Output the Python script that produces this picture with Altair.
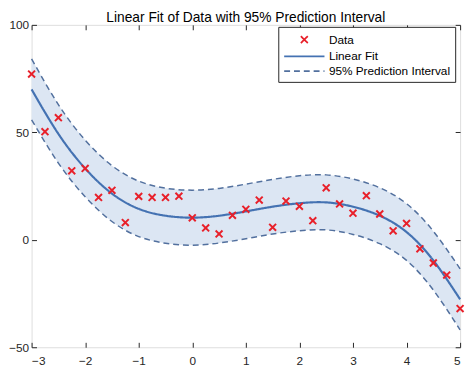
import altair as alt
import pandas as pd

# ---- data ----
x_data = [-3, -2.75, -2.5, -2.25, -2, -1.75, -1.5, -1.25, -1, -0.75, -0.5, -0.25,
          0, 0.25, 0.5, 0.75, 1, 1.25, 1.5, 1.75, 2, 2.25, 2.5, 2.75, 3, 3.25,
          3.5, 3.75, 4, 4.25, 4.5, 4.75, 5]
y_data = [77.1, 50.3, 56.8, 32.1, 33.2, 19.7, 23.0, 8.0, 20.2, 19.7, 19.7, 20.3,
          10.2, 5.5, 2.7, 11.4, 14.2, 18.5, 5.8, 18.0, 15.6, 8.9, 24.2, 16.7, 12.4, 20.5,
          12.0, 4.2, 7.6, -4.2, -10.8, -16.4, -32.0]

x_curve = [-3, -2.5, -2, -1.5, -1, -0.5, 0, 0.5, 1, 1.5, 2, 2.5, 3, 3.5, 4, 4.5, 5]
fit_y = [70.0, 49.3, 33.2, 21.5, 14.4, 11.2, 10.3, 11.2, 13.2, 15.4, 17.0, 17.4,
         15.4, 11.2, 3.6, -9.6, -27.7]
upper_y = [84.2, 62.9, 46.4, 34.5, 27.3, 24.0, 23.1, 23.9, 25.9, 28.1, 29.8, 30.2,
           28.3, 24.2, 16.8, 4.0, -13.5]
lower_y = [55.8, 35.7, 20.0, 8.5, 1.5, -1.6, -2.5, -1.5, 0.5, 2.7, 4.2, 4.6,
           2.5, -1.8, -9.6, -23.4, -41.9]

x_ticks = [-3, -2, -1, 0, 1, 2, 3, 4, 5]
y_ticks = [-50, 0, 50, 100]
series = ["Data", "Linear Fit", "95% Prediction Interval"]
title_text = "Linear Fit of Data with 95% Prediction Interval"

pts = pd.DataFrame({"x": x_data, "y": y_data, "s": series[0]})
fit = pd.DataFrame({"x": x_curve, "y": fit_y, "s": series[1]})
band = pd.DataFrame({"x": x_curve, "lo": lower_y, "hi": upper_y})
bounds = pd.concat([
    pd.DataFrame({"x": x_curve, "y": upper_y, "b": "upper"}),
    pd.DataFrame({"x": x_curve, "y": lower_y, "b": "lower"}),
])
bounds["s"] = series[2]

FONT = "Liberation Sans"
TXT = "#262626"
RED = "#e8202a"
BLUE = "#4472b2"
DASHC = "#52709e"
FILL = "#dce6f3"

xs = alt.Scale(domain=[-3, 5], nice=False, zero=False)
ys = alt.Scale(domain=[-50, 100], nice=False, zero=False)

X_PATH = "M-0.5,-0.5L0.5,0.5M-0.5,0.5L0.5,-0.5"
LINE_PATH = "M-2.93,0L2.93,0"

color_scale = alt.Scale(domain=series, range=[RED, BLUE, DASHC])
shape_scale = alt.Scale(domain=series, range=[X_PATH, LINE_PATH, LINE_PATH])
dash_scale = alt.Scale(domain=series, range=[[1, 0], [1, 0], [6, 4]])

legend = alt.Legend(
    title=None, orient="none", legendX=251, legendY=2,
    fillColor="white", strokeColor=TXT, padding=5, cornerRadius=0,
    labelFont=FONT, labelFontSize=12, labelColor="black", labelOffset=17,
    symbolSize=196, symbolOffset=13.5, symbolStrokeWidth=1.8,
    symbolFillColor="transparent", rowPadding=1,
)


def ax_labels(orient, vals, pad):
    return alt.Axis(orient=orient, values=vals, ticks=False, tickSize=0, domain=False,
                    grid=False, title=None, labelFont=FONT, labelFontSize=12,
                    labelColor=TXT, labelPadding=pad)


def ax_ticks(orient, vals):
    return alt.Axis(orient=orient, values=vals, ticks=True, tickSize=5, tickColor=TXT,
                    tickWidth=1, domain=False, grid=False, labels=False, title=None,
                    offset=-5)


band_layer = alt.Chart(band).mark_area(color=FILL, opacity=1, interpolate="natural").encode(
    x=alt.X("x:Q", scale=xs, axis=ax_labels("bottom", x_ticks, 9)),
    y=alt.Y("lo:Q", scale=ys, axis=ax_labels("left", y_ticks, 3)),
    y2="hi:Q",
)

bound_layer = alt.Chart(bounds).mark_line(strokeWidth=1.5, interpolate="natural").encode(
    x=alt.X("x:Q", scale=xs, axis=ax_ticks("top", x_ticks)),
    y=alt.Y("y:Q", scale=ys, axis=ax_ticks("right", y_ticks)),
    detail="b:N",
    color=alt.Color("s:N", scale=color_scale, legend=legend),
    strokeDash=alt.StrokeDash("s:N", scale=dash_scale, legend=legend),
)

fit_layer = alt.Chart(fit).mark_line(strokeWidth=2.2, interpolate="natural").encode(
    x=alt.X("x:Q", scale=xs, axis=ax_ticks("bottom", x_ticks)),
    y=alt.Y("y:Q", scale=ys, axis=ax_ticks("left", y_ticks)),
    color=alt.Color("s:N", scale=color_scale, legend=legend),
    strokeDash=alt.StrokeDash("s:N", scale=dash_scale, legend=legend),
)

pt_layer = alt.Chart(pts).mark_point(filled=False, size=196, strokeWidth=2, opacity=1).encode(
    x=alt.X("x:Q", scale=xs, axis=None),
    y=alt.Y("y:Q", scale=ys, axis=None),
    color=alt.Color("s:N", scale=color_scale, legend=legend),
    shape=alt.Shape("s:N", scale=shape_scale, legend=legend),
)

chart = alt.layer(band_layer, bound_layer, fit_layer, pt_layer).resolve_axis(
    x="independent", y="independent"
).properties(
    width=436, height=328,
    autosize=alt.AutoSizeParams(type="none"),
    padding={"left": 24, "top": 14, "right": 6, "bottom": 21},
    title=alt.TitleParams(title_text, font=FONT, fontSize=14, fontWeight="normal",
                          color="black", offset=1, dy=7, anchor="middle"),
).configure_view(stroke=TXT, strokeWidth=1).configure(background="white")

chart.save("out.html", embed_options={"renderer": "svg", "actions": False})
